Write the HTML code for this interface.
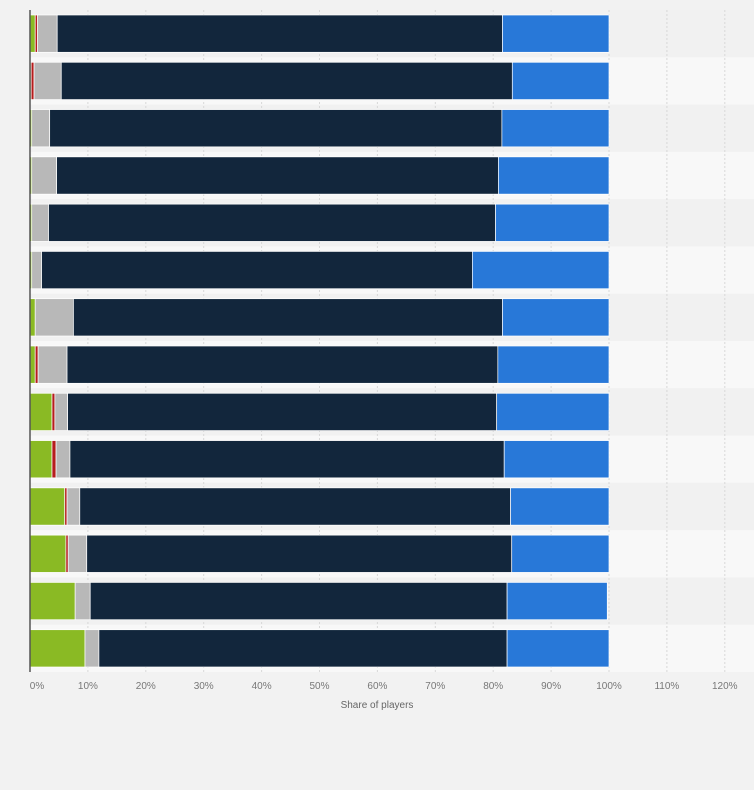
<!DOCTYPE html>
<html><head><meta charset="utf-8"><style>
body{margin:0;background:#f2f2f2;font-family:"Liberation Sans",sans-serif;}
svg{display:block}
</style></head><body>
<svg id="chart" width="754" height="790" xmlns="http://www.w3.org/2000/svg"></svg>
<script>
const categories=["r1","r2","r3","r4","r5","r6","r7","r8","r9","r10","r11","r12","r13","r14"];
const seriesNames=["green","red","gray","navy","blue"];
const seriesColors=["#8aba24","#b51d1d","#b8b8b8","#12263c","#2878d8"];
const green=[0.9,0.2,0.3,0.3,0.3,0.3,0.9,0.9,3.8,3.8,6.0,6.2,7.8,9.5];
const red=[0.4,0.5,0,0,0,0,0,0.5,0.5,0.7,0.4,0.4,0,0];
const gray=[3.4,4.7,3.1,4.3,2.9,1.7,6.6,5.0,2.2,2.4,2.2,3.2,2.6,2.4];
const navy=[76.9,77.9,78.1,76.3,77.2,74.4,74.1,74.4,74.1,75.0,74.4,73.4,72.0,70.5];
const blue=[18.4,16.7,18.5,19.1,19.6,23.6,18.4,19.2,19.4,18.1,17.0,16.8,17.3,17.6];
const tickValues=[0,10,20,30,40,50,60,70,80,90,100,110,120];
const tickLabels=["0%","10%","20%","30%","40%","50%","60%","70%","80%","90%","100%","110%","120%"];
const series=[green,red,gray,navy,blue];
const NS="http://www.w3.org/2000/svg";
const svgEl=document.getElementById("chart");
const x0=30,pxPer=5.79,topY=10,bottomY=672;
const rowH=(bottomY-topY)/categories.length;
const xs=v=>x0+v*pxPer;
function mk(t,a){const e=document.createElementNS(NS,t);for(const k in a)e.setAttribute(k,a[k]);svgEl.appendChild(e);return e;}
categories.forEach((c,i)=>{
  const b=mk("rect",{x:x0,y:topY+i*rowH,width:754-x0,height:rowH,fill:i%2?"#f8f8f8":"#f1f1f1"});
  
  
});
tickValues.forEach((v,i)=>{
  const g=mk("line",{x1:xs(v),x2:xs(v),y1:topY,y2:bottomY,stroke:"#d8d8d8","stroke-dasharray":"2,2"});
  
  
  const t=mk("text",{x:xs(v)+(v===0?7:0),y:689,"text-anchor":"middle","font-size":"10",fill:"#777"});
  t.textContent=tickLabels[i];
  
  
});
categories.forEach((c,i)=>{
  let acc=0;
  const y=topY+i*rowH+5;
  series.forEach((s,j)=>{
    const v=s[i];
    if(v>0){
      const r=mk("rect",{x:xs(acc),y:y,width:v*pxPer,height:rowH-10,fill:seriesColors[j],stroke:"#fff","stroke-width":"0.7"});
      
      
    }
    acc+=v;
  });
});
const ax=mk("line",{x1:x0,x2:x0,y1:topY,y2:bottomY,stroke:"#555","stroke-width":"1.5"});


const at=mk("text",{x:377,y:708,"text-anchor":"middle","font-size":"10",fill:"#666"});
at.textContent="Share of players";


</script>
</body></html>
